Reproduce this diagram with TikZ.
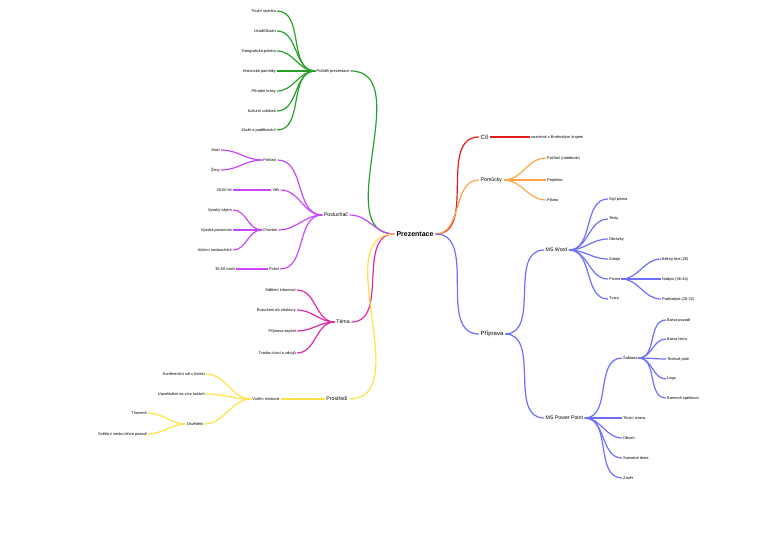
\documentclass[tikz,border=0pt]{standalone}
\usepackage{fontspec}
\setmainfont{Liberation Sans}
\begin{document}
\begin{tikzpicture}[x=1pt,y=-1pt,
 lf/.style={font=\fontsize{3.9}{4.4}\selectfont,inner sep=1pt},
 md/.style={font=\fontsize{5.2}{6}\selectfont,inner sep=1.5pt},
 bg/.style={font=\fontsize{6}{7}\selectfont,inner sep=1.5pt},
 ct/.style={font=\bfseries\fontsize{7}{8}\selectfont,inner sep=2pt},
 ln/.style={line width=1.2pt,out=0,in=180},
 lnl/.style={line width=1.2pt,out=180,in=0},
 G/.style={draw=gr},P/.style={draw=pu},M/.style={draw=ma},Y/.style={draw=ye},
 R/.style={draw=re},O/.style={draw=or},B/.style={draw=bl}]
\definecolor{gr}{RGB}{40,160,40}\definecolor{pu}{RGB}{200,70,255}
\definecolor{ma}{RGB}{225,40,170}\definecolor{ye}{RGB}{255,225,70}
\definecolor{re}{RGB}{225,30,30}\definecolor{or}{RGB}{255,165,70}
\definecolor{bl}{RGB}{110,110,255}
\useasboundingbox (0,0) rectangle (768,543);
\node[ct] (root) at (415,234) {Prezentace};
% right
\node[bg,anchor=west] (cil) at (479,137) {Cíl};
\node[lf,anchor=west] (cil1) at (530,137) {seznámit s Brněnským krajem};
\node[md,anchor=west] (pom) at (479,180) {Pomůcky};
\node[lf,anchor=west] (pom1) at (546,158) {Počítač (notebook)};
\node[lf,anchor=west] (pom2) at (546,180) {Projektor};
\node[lf,anchor=west] (pom3) at (546,200) {Plátno};
\node[bg,anchor=west] (pri) at (479,334) {Příprava};
\node[md,anchor=west] (word) at (544,250) {MS Word};
\foreach \t/\y/\n in {Styl písma/199/w1,Texty/219/w2,Obrázky/239/w3,Zdroje/259/w4,Písmo/279/w5,Tvary/299/w6}
  \node[lf,anchor=west] (\n) at (608,\y) {\t};
\foreach \t/\y/\n in {Běžný text (28)/259/p1,Nadpis (36-44)/279/p2,Podnadpis (28-32)/299/p3}
  \node[lf,anchor=west] (\n) at (661,\y) {\t};
\node[md,anchor=west] (ppt) at (544,418) {MS Power Point};
\foreach \t/\y/\n in {Šablona/358/s0,Titulní strana/418/s1,Obsah/438/s2,Samotné téma/458/s3,Závěr/478/s4}
  \node[lf,anchor=west] (\n) at (622,\y) {\t};
\foreach \t/\y/\n in {Barva pozadí/320/b1,Barva textu/339/b2,Textové pole/359/b3,Logo/379/b4,Barevné spektrum/398/b5}
  \node[lf,anchor=west] (\n) at (666,\y) {\t};
\draw[ln,R] (root.east) to (cil.west); \draw[R,line width=1.2pt] (cil.east) -- (cil1.west);
\draw[ln,O] (root.east) to (pom.west);
\foreach \n in {pom1,pom2,pom3} \draw[ln,O] (pom.east) to (\n.west);
\draw[ln,B] (root.east) to (pri.west);
\draw[ln,B] (pri.east) to (word.west); \draw[ln,B] (pri.east) to (ppt.west);
\foreach \n in {w1,w2,w3,w4,w5,w6} \draw[ln,B] (word.east) to (\n.west);
\foreach \n in {p1,p2,p3} \draw[ln,B] (w5.east) to (\n.west);
\foreach \n in {s0,s1,s2,s3,s4} \draw[ln,B] (ppt.east) to (\n.west);
\foreach \n in {b1,b2,b3,b4,b5} \draw[ln,B] (s0.east) to (\n.west);
% left green
\node[lf] (prub) at (333,71) {Průběh prezentace};
\foreach \t/\y/\n in {Titulní stránka/11/g1,{Úvod/Obsah}/31/g2,Geografická poloha/51/g3,Historické památky/71/g4,Přírodní krásy/91/g5,Kulturní události/111/g6,Závěr a poděkování/130/g7}
  \node[lf,anchor=east] (\n) at (277,\y) {\t};
\draw[lnl,G] (root.west) to (prub.east);
\foreach \n in {g1,g2,g3,g4,g5,g6,g7} \draw[lnl,G] (prub.west) to (\n.east);
% purple
\node[md] (pos) at (336,215) {Posluchač};
\node[lf] (pohl) at (270,160) {Pohlaví};
\node[lf] (vek) at (276,190) {Věk};
\node[lf] (chov) at (270,230) {Chování};
\node[lf] (poc) at (274,269) {Počet};
\node[lf,anchor=east] (muz) at (221,150) {Muži};
\node[lf,anchor=east] (zen) at (221,170) {Ženy};
\node[lf,anchor=east] (v1) at (233,190) {30-60 let};
\node[lf,anchor=east] (c1) at (233,210) {Vysoký zájem};
\node[lf,anchor=east] (c2) at (233,230) {Vysoká pozornost};
\node[lf,anchor=east] (c3) at (233,250) {Aktivní naslouchání};
\node[lf,anchor=east] (o1) at (236,269) {30-50 osob};
\draw[lnl,P] (root.west) to (pos.east);
\foreach \n in {pohl,vek,chov,poc} \draw[lnl,P] (pos.west) to (\n.east);
\foreach \n in {muz,zen} \draw[lnl,P] (pohl.west) to (\n.east);
\draw[P,line width=1.2pt] (vek.west) -- (v1.east);
\foreach \n in {c1,c2,c3} \draw[lnl,P] (chov.west) to (\n.east);
\draw[P,line width=1.2pt] (poc.west) -- (o1.east);
% magenta
\node[md] (tema) at (343,322) {Téma};
\foreach \t/\y/\n in {Sdělení informací/290/t1,Rozvržení do struktury/310/t2,Příprava kapitol/331/t3,Tvorba citací a zdrojů/353/t4}
  \node[lf,anchor=east] (\n) at (297,\y) {\t};
\draw[lnl,M] (root.west) to (tema.east);
\foreach \n in {t1,t2,t3,t4} \draw[lnl,M] (tema.west) to (\n.east);
% yellow
\node[md] (pros) at (337,399) {Prostředí};
\node[lf] (vni) at (266,399) {Vnitřní místnost};
\node[lf,anchor=east] (y1) at (206,374) {Konferenční sál v hotelu};
\node[lf,anchor=east] (y2) at (206,394) {Uspořádání na více řadách};
\node[lf] (osv) at (195,424) {Osvětlení};
\node[lf,anchor=east] (y3) at (148,413) {Tlumené};
\node[lf,anchor=east] (y4) at (148,434) {Světlo z venku lehce pozadí};
\draw[lnl,Y] (root.west) to (pros.east);
\draw[Y,line width=1.2pt] (pros.west) -- (vni.east);
\foreach \n in {y1,y2,osv} \draw[lnl,Y] (vni.west) to (\n.east);
\foreach \n in {y3,y4} \draw[lnl,Y] (osv.west) to (\n.east);
\end{tikzpicture}
\end{document}
